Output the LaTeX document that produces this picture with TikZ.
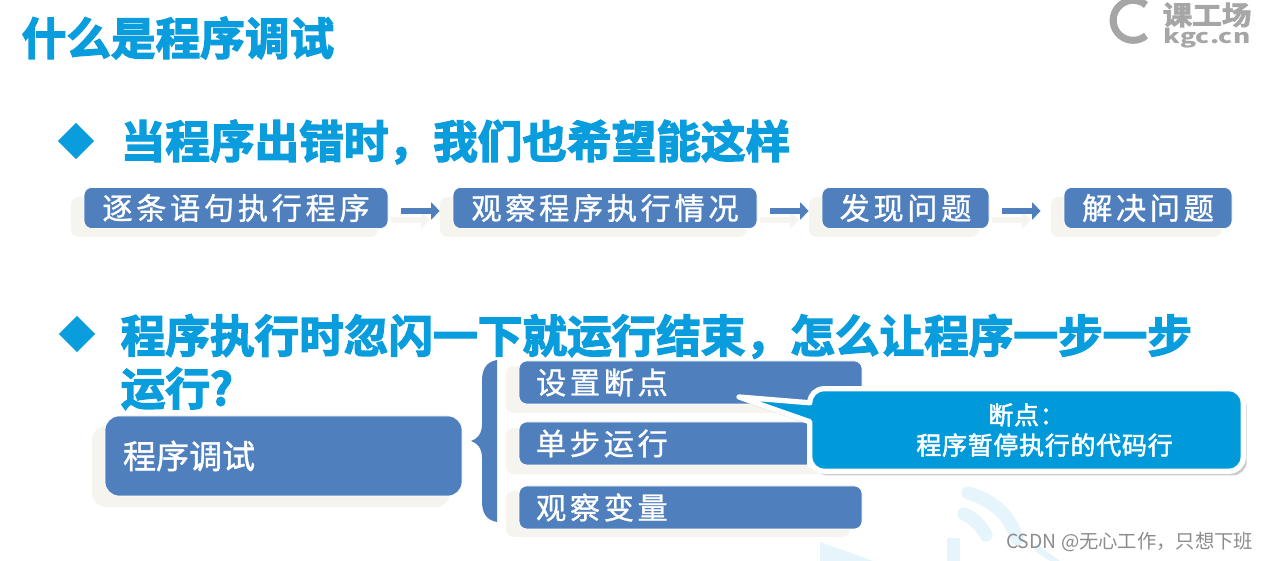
\documentclass[tikz,border=0pt]{standalone}
\usepackage{fontspec}
\setmainfont{Noto Sans CJK SC}
\newfontfamily\headfont[FakeBold=3]{Noto Sans CJK SC Bold}
\newfontfamily\boxfont[LetterSpace=12,FakeBold=1]{Noto Sans CJK SC}
\newfontfamily\bigboxfont[FakeBold=1.2]{Noto Sans CJK SC}
\newfontfamily\notefont[LetterSpace=3,FakeBold=2]{Noto Sans CJK SC}
\usetikzlibrary{positioning,shapes.geometric,arrows.meta,shadows}
\definecolor{kgcblue}{HTML}{0A9DDD}
\definecolor{boxblue}{HTML}{4F7FBC}
\definecolor{paleshade}{HTML}{F5F4EF}
\definecolor{callblue}{HTML}{009ADB}
\definecolor{markblue}{HTML}{E6F5FC}
\newcommand{\zhcomma}{\char"FF0C\relax}
\newcommand{\zhcolon}{\char"FF1A\relax}
\tikzset{
  heading/.style={anchor=west,inner sep=0pt,text=kgcblue,font=\fontsize{12.7pt}{15pt}\headfont},
  bullet/.style={diamond,fill=kgcblue,inner sep=0pt,minimum width=0.37cm,minimum height=0.37cm},
  stepbox/.style={rounded corners=2.2pt,fill=boxblue,draw=white,line width=0.2pt,text=white,inner sep=0pt,
    minimum height=0.41cm,font=\fontsize{8.6pt}{10pt}\boxfont},
  itembox/.style={stepbox,minimum width=3.43cm,minimum height=0.43cm,text width=3.09cm,align=left},
  shade/.style={rounded corners=2.2pt,fill=paleshade},
  steparrow/.style={draw=boxblue,line width=1.7pt,-{Triangle[length=2.4pt,width=4.8pt]},shorten >=0.13cm,shorten <=0.13cm},
  palearrow/.style={steparrow,draw=paleshade},
  logotext/.style={inner sep=0pt,text=black!35,anchor=west}
}
\begin{document}
\begin{tikzpicture}
\useasboundingbox (0,0) rectangle (12.7,5.61);
\clip (0,0) rectangle (12.7,5.61);

% watermark
\fill[markblue] (8.2,0.19) -- (8.73,0) -- (8.2,0) -- cycle;
\fill[markblue] (9.47,0.23) rectangle (9.6,0);
\fill[markblue] (10.6,0) -- (10.35,0.18) -- (10.35,0.1) -- (10.5,0) -- cycle;
\draw[markblue,line width=3.8pt,line cap=round] (9.68,0.68) .. controls (9.95,0.6) and (10.1,0.45) .. (10.17,0.22);
\draw[markblue,line width=3.8pt,line cap=round] (9.64,0.47) .. controls (9.72,0.44) and (9.82,0.35) .. (9.86,0.26);

% logo
\draw[black!35,line width=2pt] (11.46,5.56) arc (50:310:0.2);
\node[logotext,font=\fontsize{7.5pt}{8pt}\headfont,xscale=1.12,transform shape] (logoname) at (11.62,5.46) {课工场};
\node[logotext,font=\fontsize{5.5pt}{6pt}\bfseries,xscale=1.36,transform shape] (logourl) at (11.63,5.23) {kgc.cn};

% title and headings
\node[heading] (title) at (0.21,5.23) {什么是程序调试};
\node[bullet] (bullet1) at (0.76,4.2) {};
\node[heading] (head1) at (1.2,4.19) {当程序出错时\zhcomma 我们也希望能这样};
\node[bullet] (bullet2) at (0.77,2.27) {};
\node[heading,align=left,font=\fontsize{12.7pt}{15pt}\headfont] (head2) at (1.2,1.99) {程序执行时忽闪一下就运行结束\zhcomma 怎么让程序一步一步\\运行?};

% first row
\fill[shade] (0.71,3.24) rectangle (3.78,3.64);
\fill[shade] (4.40,3.24) rectangle (7.47,3.64);
\fill[shade] (8.09,3.24) rectangle (9.79,3.64);
\fill[shade] (10.51,3.24) rectangle (12.22,3.64);
\node[stepbox,minimum width=3.04cm] (exec) at (2.36,3.53) {逐条语句执行程序};
\node[stepbox,minimum width=3.04cm] (watch) at (6.05,3.53) {观察程序执行情况};
\node[stepbox,minimum width=1.67cm] (find) at (9.055,3.53) {发现问题};
\node[stepbox,minimum width=1.68cm] (solve) at (11.48,3.53) {解决问题};
\draw[palearrow] ([xshift=-0.1cm,yshift=-0.12cm]exec.east) -- ([xshift=-0.1cm,yshift=-0.12cm]watch.west);
\draw[palearrow] ([xshift=-0.1cm,yshift=-0.12cm]watch.east) -- ([xshift=-0.1cm,yshift=-0.12cm]find.west);
\draw[palearrow,shorten >=0.23cm] ([xshift=-0.1cm,yshift=-0.12cm]find.east) -- ([xshift=-0.1cm,yshift=-0.12cm]solve.west);
\draw[steparrow] ([yshift=-0.03cm]exec.east) -- ([yshift=-0.03cm]watch.west);
\draw[steparrow] ([yshift=-0.03cm]watch.east) -- ([yshift=-0.03cm]find.west);
\draw[steparrow,shorten >=0.23cm] ([yshift=-0.03cm]find.east) -- ([yshift=-0.03cm]solve.west);

% debug box and brace
\fill[shade,rounded corners=4pt] (0.92,0.54) rectangle (4.50,1.35);
\node[stepbox,rounded corners=4pt,minimum width=3.57cm,minimum height=0.8cm,text width=3.21cm,align=left,font=\fontsize{9.4pt}{11pt}\bigboxfont] (debug) at (2.835,1.05) {程序调试};
\fill[boxblue] (4.97,2.01) .. controls (4.85,1.99) and (4.82,1.9) .. (4.82,1.8) -- (4.82,1.37) .. controls (4.82,1.28) and (4.78,1.22) .. (4.71,1.2)
  .. controls (4.78,1.18) and (4.82,1.12) .. (4.82,1.03) -- (4.82,0.6) .. controls (4.82,0.5) and (4.85,0.41) .. (4.97,0.39) -- cycle;

% items
\fill[shade] (5.06,1.48) rectangle (8.50,1.95);
\fill[shade] (5.06,0.87) rectangle (8.50,1.33);
\fill[shade] (5.06,0.24) rectangle (8.50,0.70);
\node[itembox] (pause) at (6.905,1.785) {设置断点};
\node[itembox] (single) at (6.905,1.175) {单步运行};
\node[itembox] (vars) at (6.905,0.535) {观察变量};

% callout
\coordinate (tip) at (7.39,1.64);
\node[minimum width=4.32cm,minimum height=0.81cm,inner sep=0pt] (note) at (10.265,1.31) {};
\draw[draw=white,line width=1.5pt,fill=callblue,line join=round,drop shadow={shadow xshift=1pt,shadow yshift=-1.2pt,opacity=0.4}]
  ([xshift=0.14cm]note.north west) [rounded corners=4pt] -- (note.north east) -- (note.south east) -- (note.south west)
  -- ([yshift=0.2cm]note.south west) [sharp corners] -- ([yshift=-0.33cm]note.north west) -- (tip)
  -- ([yshift=-0.14cm]note.north west) arc (180:90:0.14cm) -- cycle;
\node[text=white,align=center,inner sep=0pt,font=\fontsize{7.1pt}{8.6pt}\notefont] (notetext) at (note.center) {断点\zhcolon\\\hspace*{0.36cm}程序暂停执行的代码行};

% csdn mark
\node[inner sep=0pt,text=black!45,anchor=east,font=\fontsize{5.5pt}{7pt}\selectfont] (csdn) at (12.54,0.19) {CSDN @无心工作\zhcomma 只想下班};
\end{tikzpicture}
\end{document}
